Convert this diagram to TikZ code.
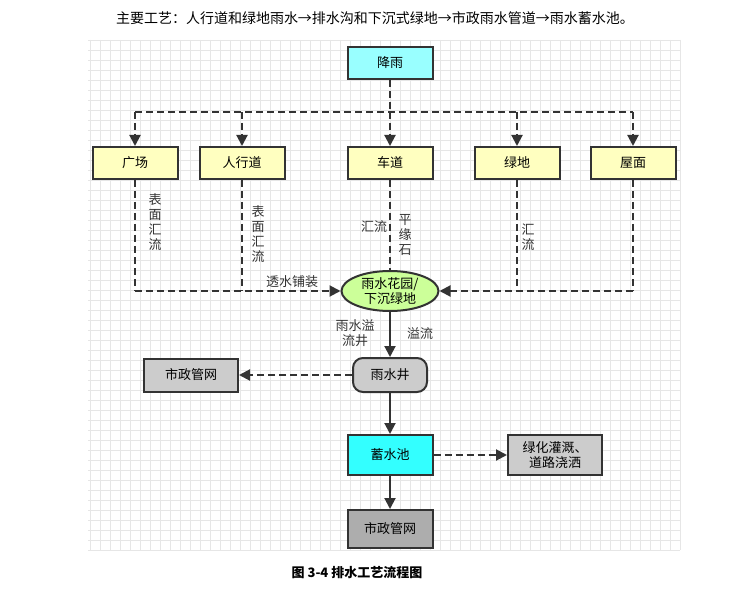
\documentclass[tikz,border=0pt]{standalone}
\usepackage{fontspec}
\setmainfont{Noto Sans CJK SC}
\usetikzlibrary{shapes.geometric,arrows.meta}
\definecolor{gridc}{HTML}{E6E6E6}
\definecolor{yel}{HTML}{FFFFC0}
\definecolor{cyl}{HTML}{99FFFF}
\definecolor{cyd}{HTML}{33FFFF}
\definecolor{grn}{HTML}{CCFF99}
\definecolor{gr}{HTML}{CCCCCC}
\definecolor{edge}{HTML}{333333}
\begin{document}
\begin{tikzpicture}[x=1pt,y=-1pt,
  box/.style={draw=edge,line width=2pt,minimum width=85pt,minimum height=32pt,font=\fontsize{13}{15}\selectfont,align=center,inner sep=1pt},
  lab/.style={font=\fontsize{13}{15}\selectfont,align=center,inner sep=1pt,text=edge},
  dsh/.style={draw=edge,line width=2pt,dash pattern=on 7pt off 4pt},
  sol/.style={draw=edge,line width=2pt},
  arr/.style={-{Triangle[length=11pt,width=11pt]}}]
\useasboundingbox (0,0) rectangle (729,591);
\fill[white] (0,0) rectangle (729,591);
\foreach \x in {90,100,...,680}{\draw[gridc,line width=0.6pt] (\x,40) -- (\x,550);}
\foreach \y in {40,50,...,550}{\draw[gridc,line width=0.6pt] (88,\y) -- (680,\y);}
\node[lab,font=\fontsize{14}{16}\selectfont,text=black] (title) at (375,18) {主要工艺：人行道和绿地雨水→排水沟和下沉式绿地→市政雨水管道→雨水蓄水池。};
\node[box,fill=cyl] (rain) at (390,63) {降雨};
\node[box,fill=yel] (gc) at (135,163) {广场};
\node[box,fill=yel] (rx) at (242,163) {人行道};
\node[box,fill=yel] (cd) at (390,163) {车道};
\node[box,fill=yel] (ld) at (517,163) {绿地};
\node[box,fill=yel] (wm) at (633,163) {屋面};
\node[ellipse,draw=edge,line width=2pt,fill=grn,minimum width=97pt,minimum height=40pt,inner sep=0pt,align=center,font=\fontsize{13}{15}\selectfont] (yh) at (390,291) {雨水花园/\\下沉绿地};
\node[box,fill=gr,rounded corners=10pt,minimum width=74pt,minimum height=34pt] (ys) at (390,375) {雨水井};
\node[box,fill=gr,minimum width=94pt,minimum height=33pt] (sz1) at (191,375) {市政管网};
\node[box,fill=cyd,minimum height=40pt] (xs) at (390,455) {蓄水池};
\node[box,fill=gr,minimum width=94pt,minimum height=40pt] (lh) at (555,455) {绿化灌溉、\\道路浇洒};
\node[box,fill=gr!85!black,minimum height=38pt] (sz2) at (390,529) {市政管网};
\node[font=\fontsize{13}{15}\selectfont\bfseries] (cap) at (357,573) {图 3-4 排水工艺流程图};
% top distribution
\coordinate (j) at (390,112);
\draw[dsh] (rain.south) -- (j);
\draw[dsh] (gc.north |- j) -- (wm.north |- j);
\foreach \n in {gc,rx,cd,ld,wm}{\draw[dsh,arr] (\n.north |- j) -- (\n.north);}
% to garden
\coordinate (lj) at (135,291);
\coordinate (rj) at (633,291);
\draw[dsh] (gc.south) -- (lj);
\draw[dsh] (rx.south) -- (rx.south |- lj);
\draw[dsh,arr] (lj) -- (yh.west);
\draw[dsh] (wm.south) -- (rj);
\draw[dsh] (ld.south) -- (ld.south |- rj);
\draw[dsh,arr] (rj) -- (yh.east);
\draw[dsh] (cd.south) -- (yh.north);
% labels
\node[lab] (l1) at (155,222) {表\\面\\汇\\流};
\node[lab] (l2) at (258,234) {表\\面\\汇\\流};
\node[lab] (l3) at (374,227) {汇流};
\node[lab] (l4) at (405,235) {平\\缘\\石};
\node[lab] (l5) at (528,237) {汇\\流};
\node[lab] (l6) at (292,282) {透水铺装};
\node[lab] (l7) at (355,333) {雨水溢\\流井};
\node[lab] (l8) at (420,334) {溢流};
% lower
\draw[sol,arr] (yh.south) -- (ys.north);
\draw[dsh,arr] (ys.west) -- (sz1.east);
\draw[sol,arr] (ys.south) -- (xs.north);
\draw[dsh,arr] (xs.east) -- (lh.west);
\draw[sol,arr] (xs.south) -- (sz2.north);
\end{tikzpicture}
\end{document}
